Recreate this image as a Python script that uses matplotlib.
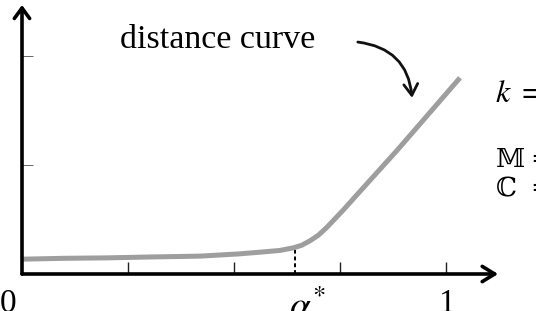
import matplotlib
matplotlib.use("Agg")
import matplotlib.pyplot as plt

plt.rcParams['mathtext.fontset'] = 'stix'
plt.rcParams['font.family'] = ['Liberation Serif', 'DejaVu Serif']

# distance curve
curve_x = [0.0, 0.10, 0.20, 0.30, 0.42, 0.51, 0.561, 0.608, 0.640, 0.660, 0.679, 0.699, 0.719, 0.758, 0.793, 0.885, 1.033]
curve_y = [0.034, 0.036, 0.037, 0.039, 0.041, 0.046, 0.050, 0.054, 0.060, 0.066, 0.076, 0.089, 0.107, 0.147, 0.185, 0.284, 0.450]
alpha_star = 0.644
alpha_star_y = 0.061
xtick_vals = [0.25, 0.5, 0.75, 1.0]
ytick_vals = [0.25, 0.5]
xtick_labels = {0.0: "0", 1.0: "1"}
curve_label = "distance curve"

W, H = 536, 311
fig = plt.figure(figsize=(W / 100, H / 100), dpi=100)
ax = fig.add_axes([0, 0, 1, 1])
# pixel mapping: x_data = (px-22)/424, y_data = (274-py)/436
ax.set_xlim(-22 / 424, (W - 22) / 424)
ax.set_ylim((274 - H) / 436, 274 / 436)
ax.axis('off')

# axes with arrows
ax.annotate('', xy=(1.123, 0), xytext=(0, 0),
            arrowprops=dict(arrowstyle='->,head_length=0.9,head_width=0.55', lw=2.6, color='black',
                            shrinkA=0, shrinkB=0), annotation_clip=False)
ax.annotate('', xy=(0, 0.617), xytext=(0, 0),
            arrowprops=dict(arrowstyle='->,head_length=0.75,head_width=0.55', lw=2.6, color='black',
                            shrinkA=0, shrinkB=0), annotation_clip=False)

# ticks
for t in xtick_vals:
    ax.plot([t, t], [0, 0.028], color='#222222', lw=1.0, solid_capstyle='butt')
for t in ytick_vals:
    ax.plot([0, 0.026], [t, t], color='#666666', lw=0.7, solid_capstyle='butt')

# dotted alpha* line
ax.plot([alpha_star, alpha_star], [0, alpha_star_y], color='black', lw=1.4, ls=(0, (2, 1.5)))

# curve
ax.plot(curve_x, curve_y, color='#9e9e9e', lw=3.6, solid_capstyle='butt', solid_joinstyle='round')

# labels
ax.text(-0.033, -0.087, xtick_labels[0.0], fontsize=24, ha='center', va='baseline')
ax.text(1.0, -0.087, xtick_labels[1.0], fontsize=24, ha='center', va='baseline')
ax.text(0.630, -0.100, r'$\alpha^{*}$', fontsize=27, ha='left', va='baseline')

ax.text(0.231, 0.518, curve_label, fontsize=24.5, ha='left', va='baseline')
ax.annotate('', xy=(0.920, 0.404), xytext=(0.792, 0.532),
            arrowprops=dict(arrowstyle='->,head_length=0.8,head_width=0.5', lw=2.0, color='#111111',
                            connectionstyle='arc3,rad=-0.4', shrinkA=0, shrinkB=0))

ax.text(1.116, 0.395, r'$k\ =$', fontsize=23, ha='left', va='baseline')
dbl = ['DejaVu Serif', 'DejaVu Sans']
ax.text(1.118, 0.245, '\U0001D544', fontsize=19, ha='left', va='baseline', family=dbl)
ax.text(1.118, 0.178, '\u2102', fontsize=19, ha='left', va='baseline', family=dbl)
ax.text(1.198, 0.245, '=', fontsize=19, ha='left', va='baseline', family=dbl)
ax.text(1.198, 0.178, '=', fontsize=19, ha='left', va='baseline', family=dbl)

fig.savefig('out.png', dpi=100)
